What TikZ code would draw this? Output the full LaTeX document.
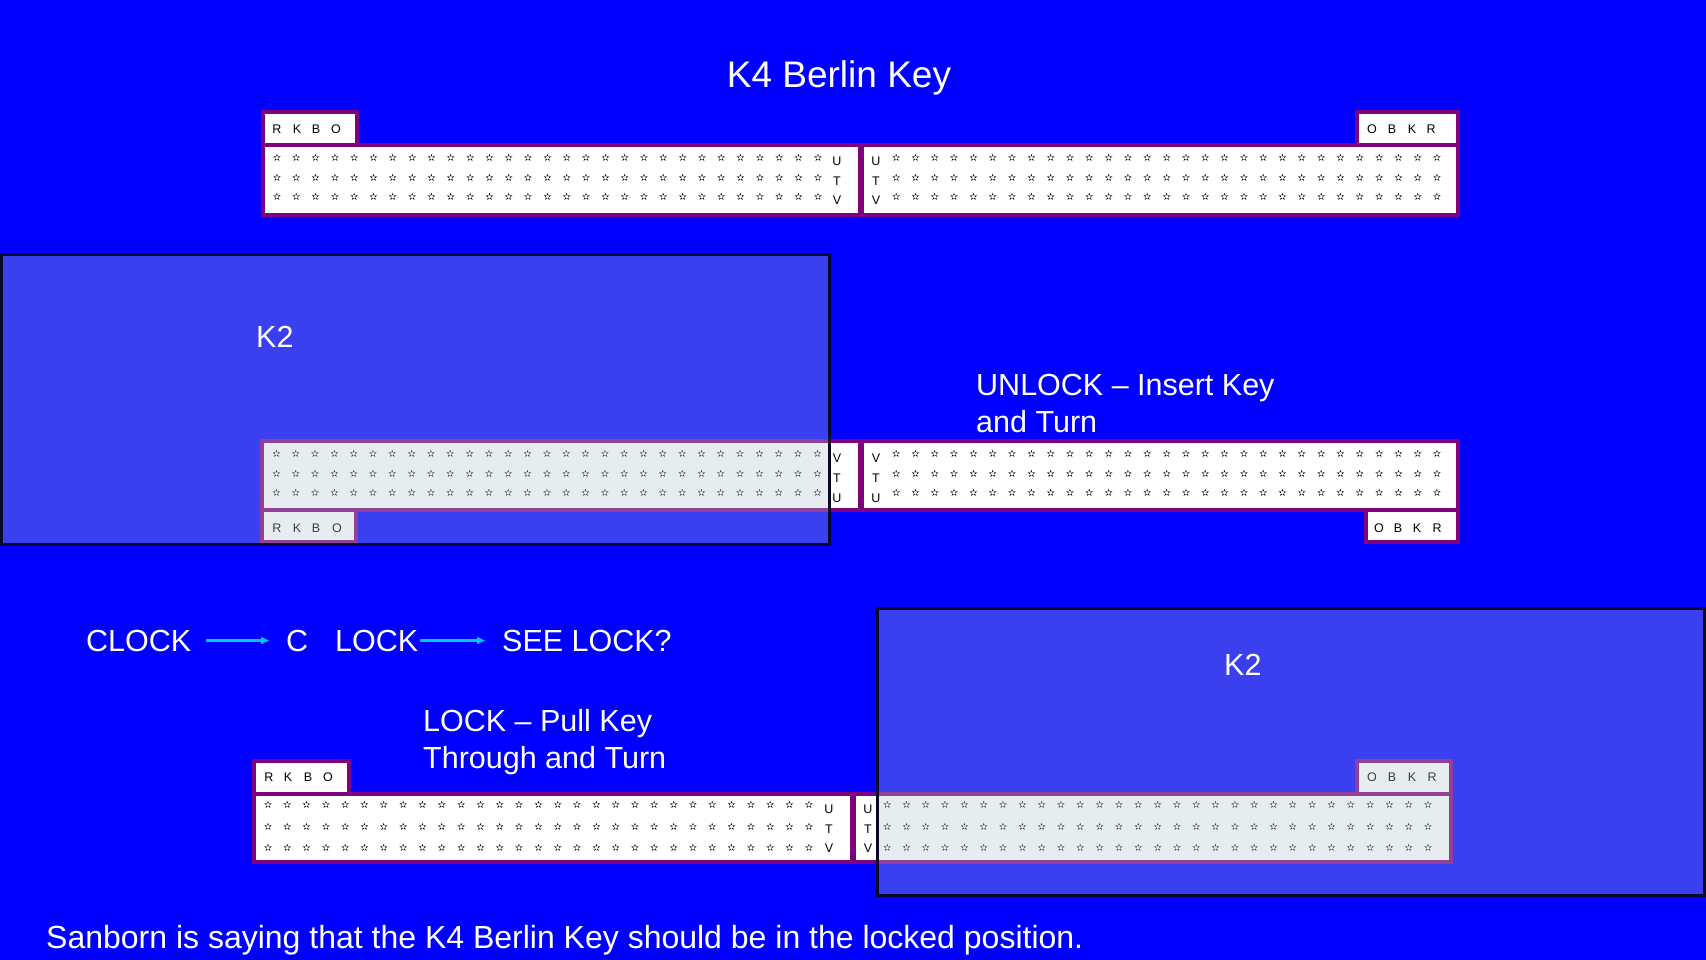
\documentclass[tikz,border=0pt]{standalone}
\usepackage{fontspec}
\setmainfont{Liberation Sans}
\newfontfamily\symfont{DejaVu Sans}
\usetikzlibrary{arrows.meta}
\definecolor{bg}{RGB}{0,0,255}
\definecolor{keyborder}{RGB}{128,0,128}
\definecolor{ovl}{RGB}{182,201,207}
\definecolor{ovlborder}{RGB}{10,10,40}
\definecolor{arrowcol}{RGB}{0,200,255}
\begin{document}
\begin{tikzpicture}[x=1pt,y=-1pt,
  keybox/.style={draw=keyborder, line width=4pt, fill=white},
  kstar/.style={inner sep=0pt, font=\symfont\fontsize{10}{10}\selectfont},
  ltr/.style={inner sep=0pt, font=\fontsize{12.5}{13}\selectfont},
  lbl/.style={inner sep=0pt, text=white, font=\fontsize{30.5}{37}\selectfont, anchor=base west},
  kovl/.style={fill=ovl, fill opacity=0.32, draw=ovlborder, draw opacity=1, line width=3pt},
  arr/.style={draw=arrowcol, line width=2.5pt, -{Triangle[length=8pt,width=7pt]}}]
\useasboundingbox (0,0) rectangle (1706,960);
\fill[bg] (0,0) rectangle (1706,960);

% ---------- top key ----------
\draw[keybox] (263,112) rectangle (356.5,145);
\draw[keybox] (1357,112) rectangle (1458,145);
\draw[keybox] (263,145) rectangle (860,215);
\draw[keybox] (861.5,145) rectangle (1458,215);
\foreach \k in {0,...,28}{
  \foreach \r/\yy in {1/158,2/177.5,3/197}{
    \node[kstar] (t-l-\r-\k) at ({277+19.32*\k},\yy) {✫};
    \node[kstar] (t-r-\r-\k) at ({896.2+19.32*\k},\yy) {✫};
  }}
\foreach \r/\c/\yy in {1/U/161,2/T/181,3/V/200}{
  \node[ltr] (t-lc-\r) at (837,\yy) {\c};
  \node[ltr] (t-rc-\r) at (876,\yy) {\c};}
\foreach \i/\c/\xx in {1/R/277,2/K/297,3/B/316,4/O/336}
  \node[ltr] (t-tl-\i) at (\xx,129) {\c};
\foreach \i/\c/\xx in {1/O/1372,2/B/1392,3/K/1412,4/R/1431}
  \node[ltr] (t-tr-\i) at (\xx,129) {\c};

% ---------- middle key ----------
\draw[keybox] (261.5,510) rectangle (356,542);
\draw[keybox] (1366,510) rectangle (1458,542);
\draw[keybox] (261.5,440.5) rectangle (860,510);
\draw[keybox] (861.5,440.5) rectangle (1458,510);
\foreach \k in {0,...,28}{
  \foreach \r/\yy in {1/454,2/474,3/493}{
    \node[kstar] (m-l-\r-\k) at ({276.5+19.32*\k},\yy) {✫};
    \node[kstar] (m-r-\r-\k) at ({896.2+19.32*\k},\yy) {✫};
  }}
\foreach \r/\c/\yy in {1/V/458,2/T/478,3/U/498}{
  \node[ltr] (m-lc-\r) at (837,\yy) {\c};
  \node[ltr] (m-rc-\r) at (876,\yy) {\c};}
\foreach \i/\c/\xx in {1/R/277,2/K/297,3/B/316,4/O/337}
  \node[ltr] (m-tl-\i) at (\xx,528) {\c};
\foreach \i/\c/\xx in {1/O/1379,2/B/1398,3/K/1417,4/R/1437}
  \node[ltr] (m-tr-\i) at (\xx,528) {\c};

% ---------- bottom key ----------
\draw[keybox] (254,761) rectangle (348.5,794);
\draw[keybox] (1357,761) rectangle (1451,794);
\draw[keybox] (254,794) rectangle (852,862);
\draw[keybox] (853.5,794) rectangle (1451,862);
\foreach \k in {0,...,28}{
  \foreach \r/\yy in {1/805,2/826.5,3/848}{
    \node[kstar] (b-l-\r-\k) at ({268+19.32*\k},\yy) {✫};
    \node[kstar] (b-r-\r-\k) at ({887.2+19.32*\k},\yy) {✫};
  }}
\foreach \r/\c/\yy in {1/U/809,2/T/829,3/V/848}{
  \node[ltr] (b-lc-\r) at (829,\yy) {\c};
  \node[ltr] (b-rc-\r) at (868,\yy) {\c};}
\foreach \i/\c/\xx in {1/R/269,2/K/288,3/B/308,4/O/328}
  \node[ltr] (b-tl-\i) at (\xx,777) {\c};
\foreach \i/\c/\xx in {1/O/1372,2/B/1392,3/K/1412,4/R/1432}
  \node[ltr] (b-tr-\i) at (\xx,777) {\c};

% ---------- K2 overlays ----------
\draw[kovl] (1.5,255) rectangle (829,544);
\draw[kovl] (877,608) rectangle (1704,895);

% ---------- texts ----------
\node[lbl, font=\fontsize{37}{40}\selectfont, anchor=base] (title) at (839,88) {K4 Berlin Key};
\node[lbl] (k2a) at (256,347) {K2};
\node[lbl] (k2b) at (1224,675) {K2};
\node[lbl] (unlock1) at (976,395) {UNLOCK – Insert Key};
\node[lbl] (unlock2) at (976,432) {and Turn};
\node[lbl] (clock) at (86,651) {CLOCK};
\node[lbl] (c) at (286,651) {C};
\node[lbl] (lock) at (335,651) {LOCK};
\node[lbl] (see) at (502,651) {SEE LOCK?};
\node[lbl] (pull1) at (423,731) {LOCK – Pull Key};
\node[lbl] (pull2) at (423,768) {Through and Turn};
\node[lbl, font=\fontsize{32}{37}\selectfont] (sanborn) at (46,948) {Sanborn is saying that the K4 Berlin Key should be in the locked position.};

\draw[arr, shorten <=15pt, shorten >=17pt] (clock.east) -- (c.west);
\draw[arr, shorten <=2pt, shorten >=17pt] (lock.east) -- (see.west);
\end{tikzpicture}
\end{document}
